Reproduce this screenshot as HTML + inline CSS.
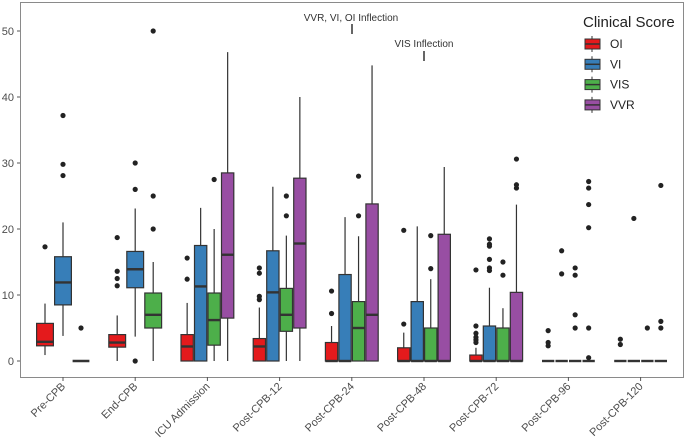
<!DOCTYPE html>
<html><head><meta charset="utf-8"><style>
body{margin:0;background:#fff}
svg text{font-family:"Liberation Sans",Arial,sans-serif}
</style></head><body>
<svg id="c" width="685" height="443" xmlns="http://www.w3.org/2000/svg">
<rect x="20.5" y="2.5" width="663" height="375" fill="none" stroke="#8a8a8a" stroke-width="1"/>
<text x="351" y="21" font-size="10" fill="#333" text-anchor="middle">VVR, VI, OI Inflection</text>
<line x1="352" y1="24" x2="352" y2="34" stroke="#333" stroke-width="1.5"/>
<text x="424" y="47" font-size="10" fill="#333" text-anchor="middle">VIS Inflection</text>
<line x1="424" y1="51" x2="424" y2="61" stroke="#333" stroke-width="1.5"/>
<g>
<text x="583" y="27" font-size="15" fill="#222">Clinical Score</text>
</g>
</svg>
<script>
const categories=["Pre-CPB","End-CPB","ICU Admission","Post-CPB-12","Post-CPB-24","Post-CPB-48","Post-CPB-72","Post-CPB-96","Post-CPB-120"];
const seriesNames=["OI","VI","VIS","VVR"];
const seriesColors=["#e41a1c","#377eb8","#4daf4a","#984ea3"];
// [lowWhisker, q1, median, q3, highWhisker] per category; null = absent
const oiStats=[[0.9,2.3,2.9,5.7,8.7],[0,2.1,2.8,4,6.9],[0,0,2.2,4,8.8],[0,0,2.2,3.4,8.1],[0,0,0,2.8,5.3],[0,0,0,2,4.3],[0,0,0,0.9,2],[0,0,0,0,0],[0,0,0,0,0]];
const viStats=[[3.8,8.5,11.9,15.8,21],[3.7,11.1,13.9,16.6,23.1],[0,0,11.3,17.5,23.2],[0,0,10.4,16.7,26.4],[0,0,0,13.1,21.8],[0,0,0,9,20.4],[0,0,0,5.3,11.1],[0,0,0,0,0],[0,0,0,0,0]];
const visStats=[null,[0,5,7,10.3,15],[0,2.4,6.2,10.3,20],[0,4.5,7,11,19],[0,0,5,9,18.9],[0,0,0,5,12.4],[0,0,0,5,8],[0,0,0,0,0],[0,0,0,0,0]];
const vvrStats=[[0,0,0,0,0],null,[0,6.5,16.1,28.5,46.8],[0,5,17.8,27.7,40],[0,0,7,23.8,44.8],[0,0,0,19.2,29.4],[0,0,0,10.4,23.7],[0,0,0,0,0],[0,0,0,0,0]];
const oiOut=[[17.3],[11.4,12.5,13.6,18.7],[12.4,15.6],[9.3,9.8,13.3,14.1],[7.2,10.6],[5.6,19.8],[2.8,3.2,3.6,4.2,5.3,13.8],[2.3,2.8,4.6],[2.5,3.3]];
const viOut=[[28.1,29.8,37.2],[0,26,30],[],[],[],[],[13.7,14.1,15.4,17.4,17.7,18.5],[13.2,16.7],[21.6]];
const visOut=[[],[20,25,50],[27.5],[22,25],[22,28],[14,19],[13,15],[5,7,13,14.1],[5]];
const vvrOut=[[5],[],[],[],[],[],[26.2,26.7,30.6],[0.5,5,20.2,23.7,26.2,27.2],[5,6,26.6]];
const yTicks=[0,10,20,30,40,50];

const stats=[oiStats,viStats,visStats,vvrStats];
const outs=[oiOut,viOut,visOut,vvrOut];
const NS="http://www.w3.org/2000/svg";
const svg=document.getElementById('c');
function y(v){return 361-v*6.6;}
function x(i){return 63+i*72.2;}
function mk(t,a,p){const e=document.createElementNS(NS,t);for(const k in a)e.setAttribute(k,a[k]);(p||svg).appendChild(e);return e;}

yTicks.forEach(t=>{
  const l=mk('line',{x1:17,x2:20,y1:y(t),y2:y(t),stroke:'#555'});
  
  
  const tx=mk('text',{x:14,y:y(t)+4,'font-size':11,fill:'#4d4d4d','text-anchor':'end'});
  tx.textContent=t;
  
  
});
categories.forEach((c,i)=>{
  const l=mk('line',{x1:x(i),x2:x(i),y1:377,y2:381,stroke:'#555'});
  
  
  const tx=mk('text',{x:x(i)+3,y:387,'font-size':11,fill:'#4d4d4d','text-anchor':'end',transform:`rotate(-45 ${x(i)+3} 387)`});
  tx.textContent=c;
  
  
  const present=[0,1,2,3].filter(s=>stats[s][i]);
  const slot=54/present.length;
  present.forEach((s,k)=>{
    const d=stats[s][i];
    const cx=x(i)-27+slot*(k+0.5);
    const w=slot-1.2;
    const g=mk('g',{});
    
    
    mk('line',{x1:cx,x2:cx,y1:y(d[0]),y2:y(d[4]),stroke:'#333','stroke-width':1.2},g);
    mk('rect',{x:cx-w/2,y:y(d[3]),width:w,height:Math.max(y(d[1])-y(d[3]),0),fill:seriesColors[s],stroke:'#333','stroke-width':1.2},g);
    mk('line',{x1:cx-w/2,x2:cx+w/2,y1:y(d[2]),y2:y(d[2]),stroke:'#333','stroke-width':2.4},g);
    outs[s][i].forEach(o=>{
      const p=mk('circle',{cx:cx,cy:y(o),r:2.6,fill:'#222'},g);
      
      
    });
  });
});
seriesNames.forEach((n,s)=>{
  const yy=44+s*20.3;
  const g=mk('g',{});
  
  
  mk('line',{x1:592,x2:592,y1:yy-8,y2:yy+8,stroke:'#333'},g);
  mk('rect',{x:585,y:yy-5,width:15,height:10,fill:seriesColors[s],stroke:'#333','stroke-width':1},g);
  mk('line',{x1:585,x2:600,y1:yy,y2:yy,stroke:'#333','stroke-width':1.5},g);
  const t=mk('text',{x:610,y:yy+4,'font-size':12,fill:'#222'},g);
  t.textContent=n;
});
</script>
</body></html>
